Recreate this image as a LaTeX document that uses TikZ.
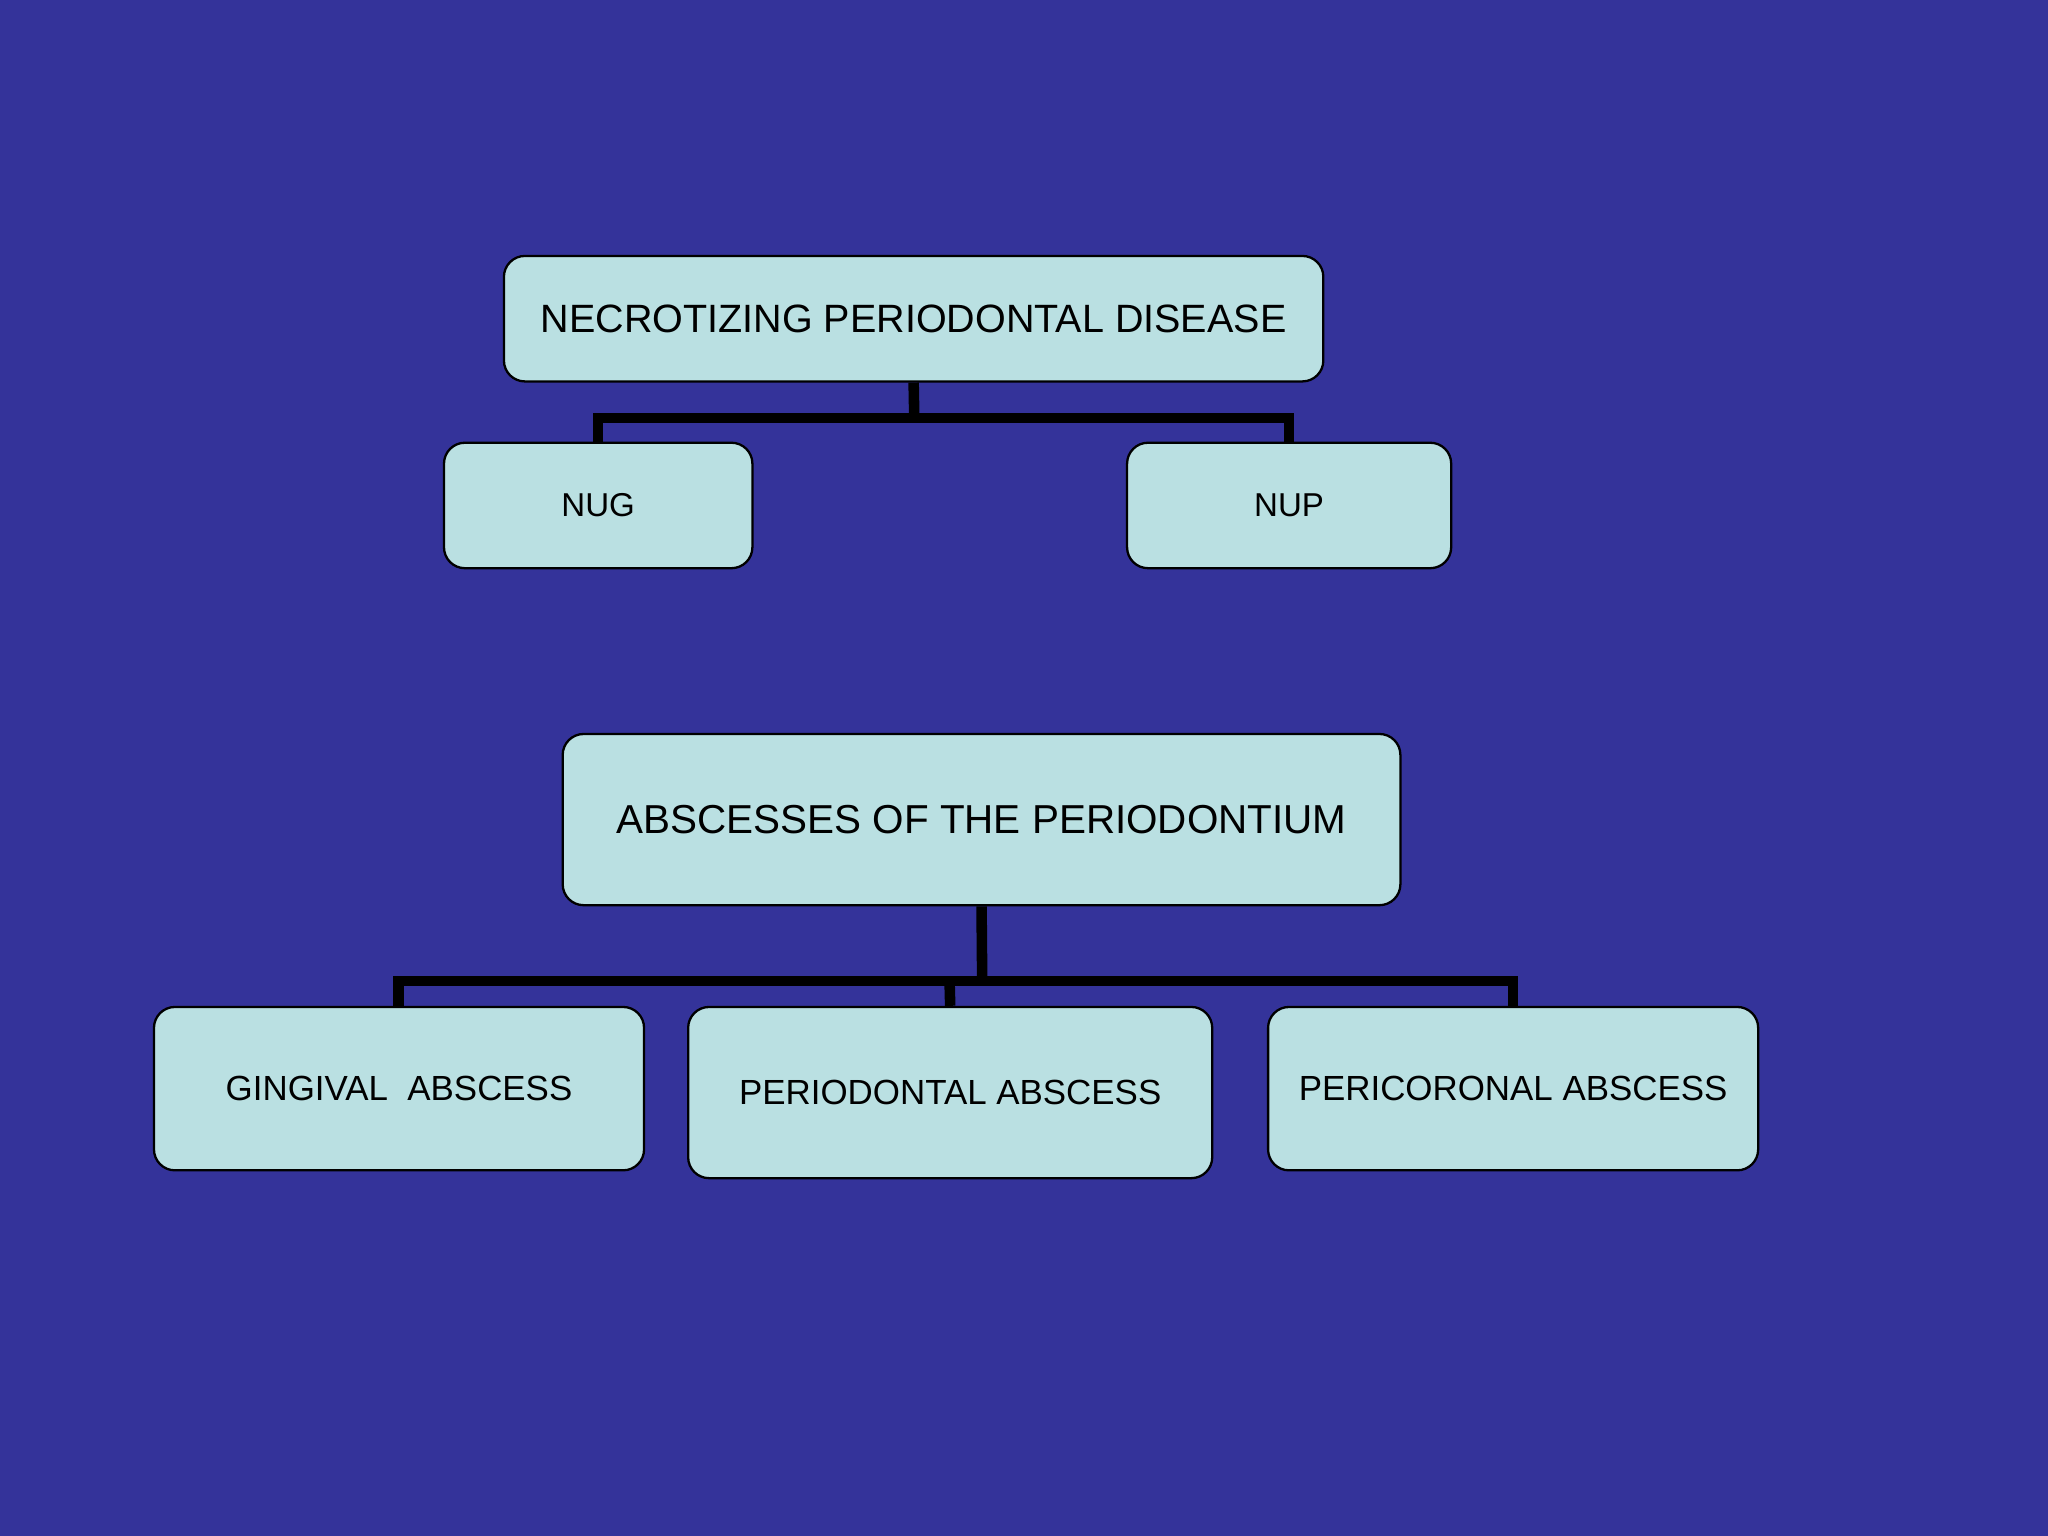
\documentclass[tikz,border=0pt]{standalone}
\usepackage{fontspec}
\setmainfont{Liberation Sans}
\definecolor{bg}{HTML}{34339A}
\definecolor{boxc}{HTML}{BAE0E2}
\begin{document}
\begin{tikzpicture}[x=0.01cm,y=-0.01cm,
  bx/.style={draw=black,line width=0.5pt,fill=boxc,rounded corners=0.16cm,inner sep=0pt},
  conn/.style={line width=2.3pt,draw=black}]
\fill[bg] (0,0) rectangle (1568,1176);
\useasboundingbox (0,0) rectangle (1568,1176);
\node[bx,minimum width=6.27cm,minimum height=0.96cm,font=\fontsize{8.6}{10}\selectfont] (npd) at (699.5,244) {NECROTIZING PERIODONTAL DISEASE};
\node[bx,minimum width=2.36cm,minimum height=0.96cm,font=\fontsize{7.2}{9}\selectfont] (nug) at (458,387) {NUG};
\node[bx,minimum width=2.48cm,minimum height=0.96cm,font=\fontsize{7.2}{9}\selectfont] (nup) at (987,387) {NUP};
\node[bx,minimum width=6.41cm,minimum height=1.31cm,font=\fontsize{8.8}{10}\selectfont] (apd) at (751.5,627.5) {ABSCESSES OF THE PERIODONTIUM};
\node[bx,minimum width=3.75cm,minimum height=1.25cm,font=\fontsize{7.6}{9}\selectfont] (ga) at (305.5,833.5) {GINGIVAL\ \ ABSCESS};
\node[bx,minimum width=4.01cm,minimum height=1.31cm,font=\fontsize{7.6}{9}\selectfont] (pa) at (727.5,836.5) {PERIODONTAL ABSCESS};
\node[bx,minimum width=3.75cm,minimum height=1.25cm,font=\fontsize{7.6}{9}\selectfont] (pc) at (1158.5,833.5) {PERICORONAL ABSCESS};
\coordinate (h1) at (700,320);
\draw[conn] (npd.south) -- (h1);
\draw[conn] (nug.north) |- (h1) -| (nup.north);
\coordinate (h2) at (752,751);
\draw[conn] (apd.south) -- (h2);
\draw[conn] (ga.north -| 305,0) |- (h2) -| (pc.north);
\draw[conn] (pa.north) -- (727,751);
\end{tikzpicture}
\end{document}
